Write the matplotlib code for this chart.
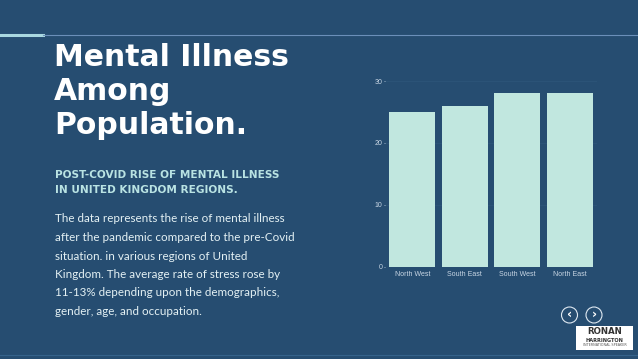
import matplotlib
matplotlib.use("Agg")
import matplotlib.pyplot as plt
from matplotlib.patches import Circle, Rectangle

W, H = 638, 359
BG = "#264d71"
BAR = "#c1e7df"
ACCENT = "#b9e3e3"

regions = ["North West", "South East", "South West", "North East"]
values = [25, 26, 28, 28]
yticks = [0, 10, 20, 30]

title_lines = ["Mental Illness", "Among", "Population."]
subtitle_lines = ["POST-COVID RISE OF MENTAL ILLNESS", "IN UNITED KINGDOM REGIONS."]
body_lines = [
    "The data represents the rise of mental illness",
    "after the pandemic compared to the pre-Covid",
    "situation. in various regions of United",
    "Kingdom. The average rate of stress rose by",
    "11-13% depending upon the demographics,",
    "gender, age, and occupation.",
]


def fx(px):
    return px / W


def fy(py):
    return 1 - py / H


fig = plt.figure(figsize=(W / 100, H / 100), dpi=100)
fig.patch.set_facecolor(BG)

# top rule: short thick accent, then thin line to the edge
fig.add_artist(plt.Line2D([0, fx(43)], [fy(35), fy(35)], color="#a9d8e0", lw=2.2))
fig.add_artist(plt.Line2D([fx(43), 1], [fy(35), fy(35)], color="#6b8fb9", lw=0.8))
# faint bottom rule
fig.add_artist(plt.Line2D([0, 1], [fy(355), fy(355)], color="#35628a", lw=0.8))

# title
for i, line in enumerate(title_lines):
    fig.text(fx(54), fy(57 + i * 34.5), line, color="white", fontsize=21.5,
             fontweight="heavy", family="DejaVu Sans", va="center", ha="left")

# subtitle
for i, line in enumerate(subtitle_lines):
    fig.text(fx(55), fy(175 + i * 15), line, color=ACCENT, fontsize=7.6,
             fontweight="bold", family="DejaVu Sans", va="center", ha="left")

# body
for i, line in enumerate(body_lines):
    fig.text(fx(55), fy(219 + i * 18.5), line, color="#e4f1f4", fontsize=8.4,
             family="Lato", va="center", ha="left")

# bar chart
ax = fig.add_axes([fx(385), fy(266.5), fx(597) - fx(385), fy(81) - fy(266.5)])
ax.set_facecolor(BG)
x = range(len(regions))
ax.bar(x, values, width=0.87, color=BAR, zorder=3)
ax.set_xlim(-0.52, 3.52)
ax.set_ylim(0, 30)
ax.set_yticks(yticks)
ax.set_xticks(list(x))
ax.set_xticklabels(regions)
ax.tick_params(axis="y", colors="#c8d6e4", labelsize=5, length=1, width=0.5, pad=1)
ax.tick_params(axis="x", colors="#c8d6e4", labelsize=5, length=0, pad=3)
for lab in ax.get_xticklabels() + ax.get_yticklabels():
    lab.set_family("Liberation Sans")
ax.grid(axis="y", color="#2d5579", lw=0.6, zorder=0)
for s in ax.spines.values():
    s.set_visible(False)

# nav buttons (drawn in inches so they stay round)
for cx, sym in [(569.5, "‹"), (594, "›")]:
    fig.add_artist(Circle((cx / 100, (H - 315) / 100), 0.08, transform=fig.dpi_scale_trans,
                          fill=False, ec="#dfe9f2", lw=0.8))
    fig.text(fx(cx), fy(314.5), sym, color="white", fontsize=9, fontweight="bold",
             ha="center", va="center", family="DejaVu Sans")

# logo
fig.add_artist(Rectangle((fx(576), fy(350)), fx(633) - fx(576), fy(325.5) - fy(350),
                         transform=fig.transFigure, fc="white", ec="none"))
fig.text(fx(604.5), fy(331.5), "RONAN", color="#333333", fontsize=6.2, fontweight="bold",
         ha="center", va="center", family="DejaVu Sans")
fig.text(fx(604.5), fy(340), "HARRINGTON", color="#333333", fontsize=3.6, fontweight="bold",
         ha="center", va="center", family="DejaVu Sans")
fig.text(fx(604.5), fy(345.5), "INTERNATIONAL SPEAKER", color="#555555", fontsize=2.4,
         ha="center", va="center", family="DejaVu Sans")

fig.savefig("out.png", dpi=100, facecolor=BG)
